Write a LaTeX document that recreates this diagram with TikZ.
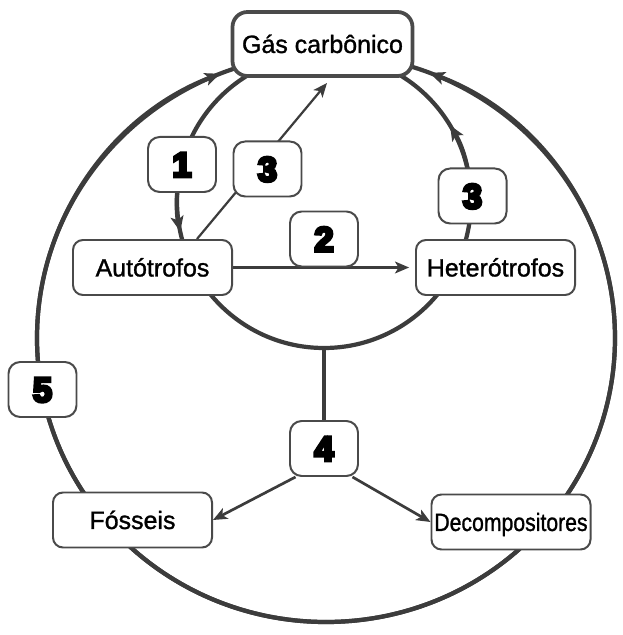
\documentclass[tikz,border=0pt]{standalone}
\usepackage{fontspec}
\usepackage{graphicx}
\setmainfont{Liberation Sans}
\newfontfamily\poolfont{Liberation Sans}[FakeBold=1.2]
\newfontfamily\numfont{Liberation Sans Bold}[FakeBold=9]
\usetikzlibrary{positioning,arrows.meta,backgrounds,calc}
\definecolor{linegray}{HTML}{3C3C3C}
\definecolor{boxgray}{HTML}{4A4A4A}

\begin{document}
\begin{tikzpicture}[x=0.03cm, y=0.03cm,
    pool/.style={rectangle, draw=boxgray, fill=white, line width=1.7pt, rounded corners=0.3cm,
        minimum width=4.77cm, minimum height=1.65cm, inner sep=0pt,
        font=\poolfont\fontsize{21.3}{25}\selectfont, text height=15.3pt, text depth=0pt},
    stepnum/.style={rectangle, draw=boxgray, fill=white, line width=1.7pt, rounded corners=0.35cm,
        minimum width=2.04cm, minimum height=1.65cm, inner sep=0pt,
        font=\numfont\fontsize{29.5}{30}\selectfont, text height=21pt, text depth=0pt},
    cycleline/.style={draw=linegray, line width=3.6pt},
    arrow/.style={->, >={Stealth[length=13pt, width=11pt, inset=3pt]}},
    thinarrow/.style={->, >={Stealth[length=12pt, width=10pt, inset=3pt]}, draw=linegray, line width=1.9pt}]
    \useasboundingbox (0,0) rectangle (623,635);

    % Centres of the two cycles
    \coordinate (outer) at (326,297);
    \coordinate (inner) at (324,434);

    % Carbon pools
    \node[pool, minimum width=5.4cm, minimum height=1.92cm, rounded corners=0.45cm, line width=3.2pt] (gas) at (322.5,591) {Gás carbônico};
    \node[pool] (auto) at (152.5,367.5) {Autótrofos};
    \node[pool] (hetero) at (495.5,367.5) {Heterótrofos};
    \node[pool] (fos) at (132.5,115) {Fósseis};
    \node[pool] (decomp) at (511,113) {\scalebox{0.85}[1]{Decompositores}};

    % Numbered steps
    \coordinate (mid2) at ($(auto.east)!0.5!(hetero.west)$);
    \coordinate (innerbot) at ($(inner)+(-90:147)$);
    \coordinate (co2tip) at (327,552);
    \node[stepnum] (n1) at (182,470.5) {1};
    \node[stepnum] (n3a) at (267.5,466) {3};
    \node[stepnum, above=0pt of mid2] (n2) {2};
    \node[stepnum] (n3b) at (472.5,439) {3};
    \node[stepnum, below=2.16cm of innerbot] (n4) {4};
    \node[stepnum] (n5) at (42.5,245.5) {5};

    % Connectors, behind the boxes
    \begin{scope}[on background layer]
    \draw[cycleline] (outer) ellipse [x radius=289, y radius=284];
    \draw[cycleline, arrow] (outer) ++(-90:289 and 284) arc[start angle=-90, end angle=-248.5, x radius=289, y radius=284];
    \draw[cycleline, arrow] (outer) ++(-90:289 and 284) arc[start angle=-90, end angle=69, x radius=289, y radius=284];
    \draw[cycleline] (inner) circle [radius=147];
    \draw[cycleline, arrow] (inner) ++(170:147) arc[start angle=170, end angle=192, radius=147];
    \draw[cycleline, arrow] (inner) ++(0:147) arc[start angle=0, end angle=31, radius=147];
    \draw[cycleline, line width=4.2pt] (innerbot) -- (n4);
    \draw[thinarrow] ($(auto.north)+(44.5,0)$) -- (co2tip);
    \draw[thinarrow, line width=2.5pt, shorten >=5pt] (auto) -- (hetero);
    \draw[thinarrow, line width=2.3pt] (n4.225) -- (fos.east);
    \draw[thinarrow, line width=2.3pt] (n4.-45) -- (decomp.west);
    \end{scope}
\end{tikzpicture}
\end{document}
